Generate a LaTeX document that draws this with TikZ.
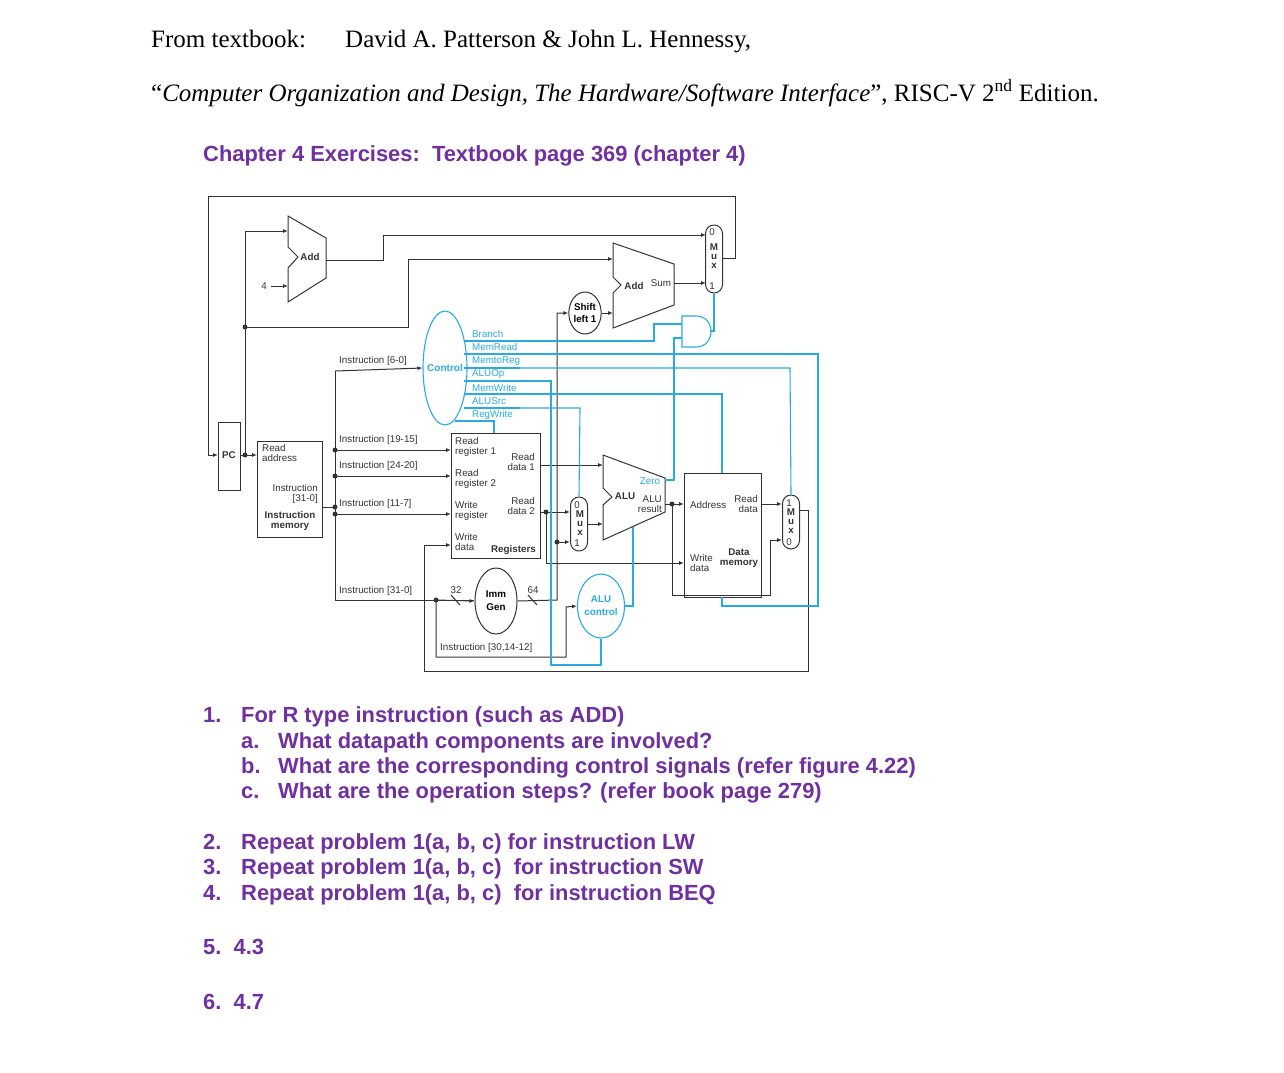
\documentclass[tikz,border=0pt]{standalone}
\usepackage{fontspec}
\setmainfont{Liberation Serif}
\newfontfamily\arl{Liberation Sans}
\usetikzlibrary{arrows.meta,shapes.geometric,calc}
\definecolor{purp}{HTML}{7030A0}
\definecolor{cb}{HTML}{29ABE2}
\definecolor{ln}{HTML}{333333}
\begin{document}
\begin{tikzpicture}[x=1pt,y=-1pt,
  w/.style={draw=ln,line width=1pt},
  a/.style={w,-{Latex[length=5pt,width=4pt]}},
  bl/.style={draw=cb,line width=1.1pt},
  thb/.style={draw=cb,line width=2.2pt},
  dot/.style={circle,fill=ln,inner sep=0pt,minimum size=5pt},
  sm/.style={font=\arl\fontsize{9.8}{10.5}\selectfont,text=ln,inner sep=0pt},
  smb/.style={font=\arl\bfseries\fontsize{9.8}{10.5}\selectfont,text=ln,inner sep=0pt},
  hd/.style={font=\fontsize{25}{28}\selectfont,anchor=base west,inner sep=0pt},
  pu/.style={font=\arl\bfseries\fontsize{21.9}{24}\selectfont,text=purp,anchor=base west,inner sep=0pt},
  mux/.style={draw=ln,line width=1pt,rounded corners=8.5pt,minimum width=17pt,inner sep=0pt},
  ell/.style={draw=ln,line width=1pt,ellipse,inner sep=0pt}]
\useasboundingbox (0,0) rectangle (1284,1072);
% header
\node[hd] (h1) at (151,47) {From textbook:};
\node[hd] (h2) at (345,47) {David A. Patterson \& John L. Hennessy,};
\node[hd] (h3) at (151,101) {``\textit{Computer Organization and Design, The Hardware/Software Interface}'', RISC-V 2\textsuperscript{nd} Edition.};
\node[pu] (ch) at (203,161) {Chapter 4 Exercises:\ \ Textbook page 369 (chapter 4)};
% list
\node[pu] (n1) at (203,722) {1.}; \node[pu] (t1) at (241,722) {For R type instruction (such as ADD)};
\node[pu] (na) at (241,748) {a.}; \node[pu] (ta) at (278,748) {What datapath components are involved?};
\node[pu] (nb) at (241,773) {b.}; \node[pu] (tbx) at (278,773) {What are the corresponding control signals (refer figure 4.22)};
\node[pu] (nc) at (241,798) {c.}; \node[pu] (tc) at (278,798) {What are the operation steps? (refer book page 279)};
\node[pu] (n2) at (203,849) {2.}; \node[pu] (t2) at (241,849) {Repeat problem 1(a, b, c) for instruction LW};
\node[pu] (n3) at (203,874) {3.}; \node[pu] (t3) at (241,874) {Repeat problem 1(a, b, c)\ \ for instruction SW};
\node[pu] (n4) at (203,900) {4.}; \node[pu] (t4) at (241,900) {Repeat problem 1(a, b, c)\ \ for instruction BEQ};
\node[pu] (n5) at (203,954) {5.\ \ 4.3};
\node[pu] (n6) at (203,1009) {6.\ \ 4.7};

% ---------- datapath ----------
\node[draw=ln,line width=1pt,minimum width=22pt,minimum height=68pt,inner sep=0pt] (pc) at (229,456) {};
\node[smb] at (229,455) {PC};
\draw[w] (257,441) rectangle (322,537);
\node[sm,anchor=north west,align=left] (ra) at (262,444) {Read\\address};
\node[sm,anchor=east,align=right] (im1) at (318,494) {Instruction\\{[31-0]}};
\node[smb,align=center] (im2) at (290,521) {Instruction\\memory};
\draw[w] (288,216) -- (326,238) -- (326,278) -- (288,302) -- (288,268) -- (298,257) -- (288,247) -- cycle;
\node[smb] (add1) at (310,257) {Add};
\draw[w] (613,243) -- (674,264) -- (674,305) -- (613,328) -- (613,293) -- (621,285) -- (613,277) -- cycle;
\node[smb] (add2) at (634,286) {Add};
\node[sm] (sum) at (661,283) {Sum};
\node[mux,minimum height=68pt] (pcmux) at (714,259) {};
\node[sm] at (712,232) {0};\node[sm] at (712,286) {1};
\node[smb,align=center,font=\arl\bfseries\fontsize{9.8}{9}\selectfont] at (714,256) {M\\u\\x};
\node[ell,minimum width=32pt,minimum height=42pt,align=center,font=\arl\bfseries\fontsize{9.8}{12}\selectfont] (sl) at (585,313) {Shift\\left 1};
\draw[bl] (682,316) -- (696,316) .. controls (716,316) and (716,347) .. (696,347) -- (682,347) -- cycle;
\node[draw=cb,line width=1.1pt,ellipse,minimum width=44pt,minimum height=114pt,inner sep=0pt] (ctl) at (445,368) {};
\node[font=\arl\bfseries\fontsize{10}{10}\selectfont,text=cb,inner sep=0pt] at (445,368) {Control};
\foreach \y/\t in {334/Branch,347/MemRead,361/MemtoReg,374/ALUOp,388/MemWrite,401/ALUSrc,415/RegWrite}
  \node[font=\arl\fontsize{9.8}{10}\selectfont,text=cb,anchor=west,inner sep=0pt] at (472,\y) {\t};
\draw[w] (451,433) rectangle (540,558);
\node[sm,anchor=north west,align=left] at (455,437) {Read\\register 1};
\node[sm,anchor=north west,align=left] at (455,469) {Read\\register 2};
\node[sm,anchor=north west,align=left] at (455,501) {Write\\register};
\node[sm,anchor=north west,align=left] at (455,533) {Write\\data};
\node[sm,anchor=north east,align=right] at (535,453) {Read\\data 1};
\node[sm,anchor=north east,align=right] at (535,497) {Read\\data 2};
\node[smb,anchor=south east] (regs) at (536,555) {Registers};
\node[ell,minimum width=42pt,minimum height=66pt,align=center,font=\arl\bfseries\fontsize{9.8}{13}\selectfont] (imm) at (496,601) {Imm\\Gen};
\node[mux,minimum height=54pt] (amux) at (579,524) {};
\node[sm] at (577,505) {0};\node[sm] at (577,543) {1};
\node[smb,align=center,font=\arl\bfseries\fontsize{9.8}{9}\selectfont] at (580,523) {M\\u\\x};
\draw[w] (603,455) -- (665,478) -- (665,512) -- (603,540) -- (603,505) -- (612,497) -- (603,488) -- cycle;
\node[smb] at (625,496) {ALU};
\node[sm,align=right,anchor=east] at (662,504) {ALU\\result};
\node[font=\arl\fontsize{9.8}{9}\selectfont,text=cb,inner sep=0pt] at (650,481) {Zero};
\node[draw=cb,line width=1.1pt,ellipse,minimum width=42pt,minimum height=64pt,inner sep=0pt,align=center,font=\arl\bfseries\fontsize{9.8}{13}\selectfont,text=cb] (aluc) at (601,606) {ALU\\control};
\draw[w] (684,473) rectangle (761,597);
\node[sm,anchor=west] at (690,505) {Address};
\node[sm,align=right,anchor=east] at (758,504) {Read\\data};
\node[sm,align=left,anchor=west] at (690,563) {Write\\data};
\node[smb,align=center] at (739,558) {Data\\memory};
\node[mux,minimum height=54pt] (wmux) at (791,522) {};
\node[sm] at (789,503) {1};\node[sm] at (789,542) {0};
\node[smb,align=center,font=\arl\bfseries\fontsize{9.8}{9}\selectfont] at (791,521) {M\\u\\x};

% ---- black wires ----
\coordinate (pcdot) at (245,455);
\coordinate (fb) at (245,327);
\draw[a] (723,258) -- (735,258) -- (735,196) -- (208,196) -- (208,455) -- (218,455);
\draw[a] (240,455) -- (257,455);
\draw[w] (pcdot) -- (fb);
\draw[a] (fb) -- (245,231) -- (288,231);
\draw[a] (fb) -- (408,327) -- (408,259) -- (613,259);
\draw[a] (326,260) -- (383,260) -- (383,235) -- (706,235);
\node[sm] (four) at (264,286) {4};
\draw[a] (271,286) -- (288,286);
\draw[a] (674,283) -- (706,283);
\draw[a] (sl.east) -- (613,313);
\draw[a] (imm.east) -- (557,600) -- (557,313) -- (sl.west);
\draw[a] (557,542) -- (570,542);
\draw[w] (322,507) -- (335,507);
\draw[w] (335,371) -- (335,600) -- (474,600);
\draw[a] (335,371) -- (ctl.west);
\draw[a] (335,450) -- (451,450);
\draw[a] (335,476) -- (451,476);
\draw[a] (335,514) -- (451,514);
\draw[a] (436,600) -- (imm.west);
\draw[a] (436,600) -- (436,657) -- (566,657) -- (566,607) -- (aluc.west);
\node[sm,anchor=south west] at (339,366) {Instruction [6-0]};
\node[sm,anchor=south west] at (339,445) {Instruction [19-15]};
\node[sm,anchor=south west] at (339,471) {Instruction [24-20]};
\node[sm,anchor=south west] at (339,509) {Instruction [11-7]};
\node[sm,anchor=south west] at (339,596) {Instruction [31-0]};
\node[sm,anchor=north west] at (440,643) {Instruction [30,14-12]};
\node[sm] at (456,590) {32}; \node[sm] at (533,590) {64};
\draw[w] (451,595) -- (460,605); \draw[w] (528,595) -- (537,605);
\draw[a] (540,465) -- (603,465);
\draw[a] (540,512) -- (570,512);
\draw[a] (546,512) -- (546,563) -- (684,563);
\draw[a] (588,524) -- (603,524);
\draw[a] (665,504) -- (684,504);
\draw[a] (672,504) -- (672,595) -- (770,595) -- (770,540) -- (782,540);
\draw[a] (761,504) -- (782,504);
\draw[a] (800,510) -- (808,510) -- (808,671) -- (424,671) -- (424,545) -- (451,545);
\foreach \p in {(245,455),(245,327),(335,450),(335,476),(335,507),(335,514),(436,600),(546,512),(557,542),(672,504)}
  \node[dot] at \p {};

% ---- blue control wires ----
\foreach \y in {341,354,368,381,394,408} \draw[bl] (464,\y) -- (520,\y);
\draw[bl] (520,341) -- (654,341) -- (654,324) -- (682,324);
\draw[bl] (665,480) -- (674,480) -- (674,338) -- (682,338);
\draw[bl] (710,331) -- (714,331) -- (pcmux.south);
\draw[bl] (520,354) -- (818,354) -- (818,606) -- (722,606) -- (722,597);
\draw[bl] (520,368) -- (790,368) -- (wmux.north);
\draw[thb] (520,381) -- (551,381) -- (551,665) -- (601,665) -- (aluc.south);
\draw[thb] (aluc.east) -- (633,606) -- (633,527);
\draw[bl] (520,394) -- (722,394) -- (722,473);
\draw[bl] (520,408) -- (580,408) -- (amux.north);
\draw[bl] (455,421) -- (494,421) -- (494,433);
\end{tikzpicture}
\end{document}
